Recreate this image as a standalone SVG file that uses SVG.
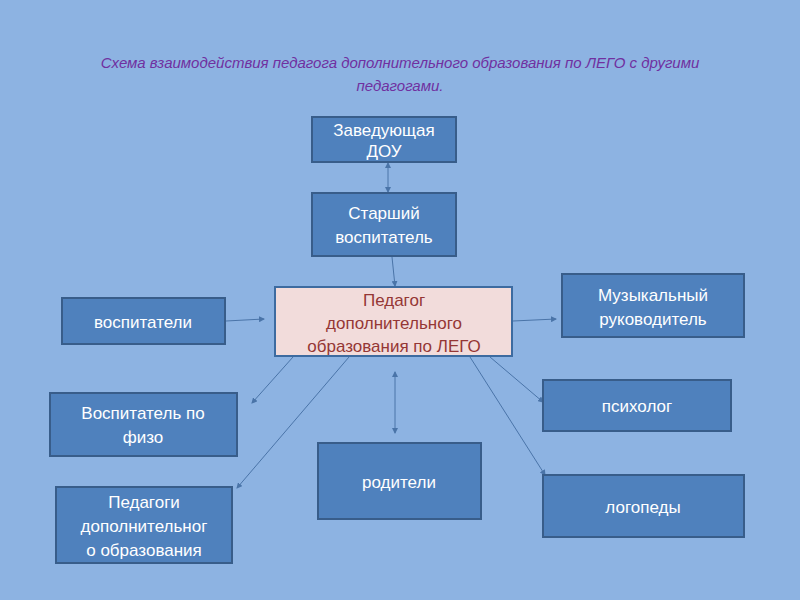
<svg xmlns="http://www.w3.org/2000/svg" width="800" height="600" viewBox="0 0 800 600">
<style>
.b{fill:#4f81bd;stroke:#385d8a;stroke-width:2}
.t{font-family:"Liberation Sans",Arial,sans-serif;font-size:17px;fill:#fff;text-anchor:middle}
.c{stroke:#4a74a8;stroke-width:1;fill:none;marker-end:url(#a)}
</style>
<defs><marker id="a" markerWidth="6" markerHeight="6" refX="5" refY="3" orient="auto"><path d="M0,0L6,3L0,6z" fill="#4a74a8"/></marker>
<marker id="s" markerWidth="6" markerHeight="6" refX="1" refY="3" orient="auto"><path d="M6,0L0,3L6,6z" fill="#4a74a8"/></marker></defs>
<rect width="800" height="600" fill="#8db3e2"/>
<text x="400" y="68" font-family="Liberation Sans,Arial,sans-serif" font-size="15" font-style="italic" fill="#7030a0" text-anchor="middle">Схема взаимодействия педагога дополнительного образования по ЛЕГО с другими</text>
<text x="400" y="91" font-family="Liberation Sans,Arial,sans-serif" font-size="15" font-style="italic" fill="#7030a0" text-anchor="middle">педагогами.</text>
<g id="connectors">
<line class="c" x1="388" y1="163" x2="388" y2="192" marker-start="url(#s)"/>
<line class="c" x1="392" y1="257" x2="395" y2="286"/>
<line class="c" x1="226" y1="321" x2="264" y2="319"/>
<line class="c" x1="513" y1="321" x2="556" y2="319"/>
<line class="c" x1="293" y1="357" x2="252" y2="403"/>
<line class="c" x1="349" y1="357" x2="237" y2="488"/>
<line class="c" x1="395" y1="372" x2="395" y2="433" marker-start="url(#s)"/>
<line class="c" x1="470" y1="357" x2="545" y2="475"/>
<line class="c" x1="490" y1="357" x2="543" y2="402"/>
</g>
<g id="zav"><rect class="b" x="312" y="117" width="144" height="45"/><text class="t" x="384" y="136">Заведующая</text><text class="t" x="384" y="157">ДОУ</text></g>
<g id="starsh"><rect class="b" x="312" y="193" width="144" height="63"/><text class="t" x="384" y="219">Старший</text><text class="t" x="384" y="243">воспитатель</text></g>
<g id="center"><rect x="275" y="287" width="237" height="69" fill="#f2dcdb" stroke="#3d6ba0" stroke-width="2"/>
<text class="t" x="394" y="306" style="fill:#953735">Педагог</text><text class="t" x="394" y="329" style="fill:#953735">дополнительного</text><text class="t" x="394" y="352" style="fill:#953735">образования по ЛЕГО</text></g>
<g id="vosp"><rect class="b" x="62" y="298" width="163" height="46"/><text class="t" x="143" y="328">воспитатели</text></g>
<g id="muz"><rect class="b" x="562" y="274" width="182" height="63"/><text class="t" x="653" y="301">Музыкальный</text><text class="t" x="653" y="325">руководитель</text></g>
<g id="psy"><rect class="b" x="543" y="380" width="188" height="51"/><text class="t" x="637" y="412">психолог</text></g>
<g id="fizo"><rect class="b" x="50" y="393" width="187" height="63"/><text class="t" x="143" y="419">Воспитатель по</text><text class="t" x="143" y="443">физо</text></g>
<g id="rod"><rect class="b" x="318" y="443" width="163" height="76"/><text class="t" x="399" y="488">родители</text></g>
<g id="logo"><rect class="b" x="543" y="475" width="201" height="62"/><text class="t" x="643" y="513">логопеды</text></g>
<g id="pdo"><rect class="b" x="56" y="487" width="176" height="76"/><text class="t" x="144" y="508">Педагоги</text><text class="t" x="144" y="532">дополнительног</text><text class="t" x="144" y="556">о образования</text></g>
</svg>
